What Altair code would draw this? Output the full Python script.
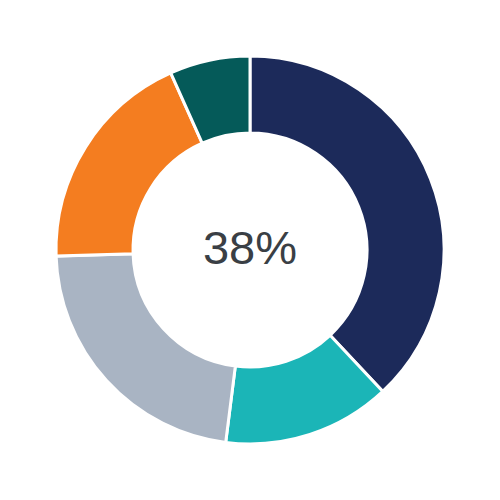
import altair as alt
import pandas as pd

categories = ["A", "B", "C", "D", "E"]
values = [38, 14, 22.5, 18.8, 6.7]
colors = ["#1c2a5a", "#1bb5b7", "#a9b4c3", "#f47d20", "#055a59"]
center_label = "38%"

df = pd.DataFrame({"cat": categories, "value": values, "order": list(range(len(categories)))})

arc = alt.Chart(df).mark_arc(outerRadius=194, innerRadius=117, stroke="white", strokeWidth=3).encode(
    theta=alt.Theta("value:Q", stack=True),
    color=alt.Color("cat:N", scale=alt.Scale(domain=categories, range=colors), legend=None),
    order=alt.Order("order:Q"),
)

text = alt.Chart(pd.DataFrame({"t": [center_label]})).mark_text(
    fontSize=47, font="Helvetica, Arial, Liberation Sans", color="#3a3f45", baseline="middle", align="center"
).encode(text="t:N", x=alt.value(242), y=alt.value(242))

chart = alt.layer(arc, text).properties(
    width=484, height=484, autosize=alt.AutoSizeParams(type="none"), padding=0
).configure_view(stroke=None)

chart.save("out.html", embed_options={"renderer": "svg", "actions": False})
